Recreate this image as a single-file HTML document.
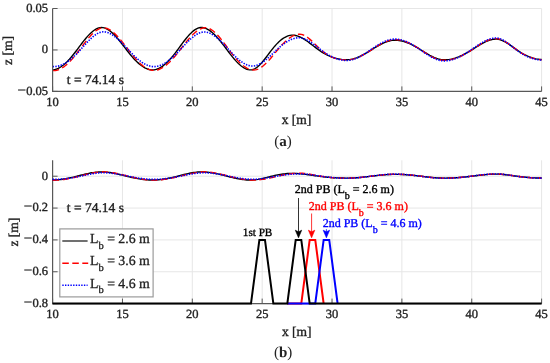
<!DOCTYPE html>
<html><head><meta charset="utf-8"><style>
html,body{margin:0;padding:0;background:#fff;}
body{width:550px;height:363px;overflow:hidden;position:relative;}
svg{position:absolute;left:0;top:0;}
text{font-family:"Liberation Serif", "DejaVu Serif", serif;fill:#222;text-rendering:geometricPrecision;}
.tk{font-size:12.5px;stroke:#222;stroke-width:0.35px;}
.lb{font-size:13.5px;stroke:#222;stroke-width:0.35px;}
.an{font-size:12px;stroke-width:0.35px;}
.cap{font-size:15px;}
.lg{font-size:13.8px;stroke:#222;stroke-width:0.3px;}
</style></head><body>
<svg width="550" height="363" viewBox="0 0 550 363">
<line x1="122.46" y1="8.5" x2="122.46" y2="91.4" stroke="#e6e6e6" stroke-width="1"/>
<line x1="192.31" y1="8.5" x2="192.31" y2="91.4" stroke="#e6e6e6" stroke-width="1"/>
<line x1="262.17" y1="8.5" x2="262.17" y2="91.4" stroke="#e6e6e6" stroke-width="1"/>
<line x1="332.03" y1="8.5" x2="332.03" y2="91.4" stroke="#e6e6e6" stroke-width="1"/>
<line x1="401.89" y1="8.5" x2="401.89" y2="91.4" stroke="#e6e6e6" stroke-width="1"/>
<line x1="471.74" y1="8.5" x2="471.74" y2="91.4" stroke="#e6e6e6" stroke-width="1"/>
<line x1="541.60" y1="8.5" x2="541.60" y2="91.4" stroke="#e6e6e6" stroke-width="1"/>
<line x1="52.6" y1="49.95" x2="541.6" y2="49.95" stroke="#e6e6e6" stroke-width="1"/>
<line x1="52.6" y1="8.50" x2="541.6" y2="8.50" stroke="#e6e6e6" stroke-width="1"/>
<path d="M52.60,69.91 L54.00,69.75 L55.39,69.43 L56.79,68.97 L58.19,68.37 L59.59,67.63 L60.98,66.76 L62.38,65.78 L63.78,64.68 L65.17,63.47 L66.57,62.16 L67.97,60.75 L69.37,59.26 L70.76,57.68 L72.16,56.03 L73.56,54.31 L74.95,52.53 L76.35,50.70 L77.75,48.82 L79.15,46.94 L80.54,45.08 L81.94,43.23 L83.34,41.43 L84.73,39.68 L86.13,38.00 L87.53,36.39 L88.93,34.87 L90.32,33.46 L91.72,32.17 L93.12,31.00 L94.51,29.98 L95.91,29.12 L97.31,28.42 L98.71,27.91 L100.10,27.59 L101.50,27.48 L102.90,27.59 L104.29,27.89 L105.69,28.39 L107.09,29.06 L108.49,29.89 L109.88,30.87 L111.28,31.99 L112.68,33.24 L114.07,34.60 L115.47,36.07 L116.87,37.62 L118.27,39.25 L119.66,40.94 L121.06,42.69 L122.46,44.48 L123.85,46.29 L125.25,48.12 L126.65,49.95 L128.05,51.75 L129.44,53.51 L130.84,55.21 L132.24,56.84 L133.63,58.41 L135.03,59.90 L136.43,61.31 L137.83,62.64 L139.22,63.87 L140.62,65.01 L142.02,66.05 L143.41,66.97 L144.81,67.78 L146.21,68.47 L147.61,69.04 L149.00,69.47 L150.40,69.76 L151.80,69.91 L153.19,69.91 L154.59,69.75 L155.99,69.44 L157.39,68.99 L158.78,68.39 L160.18,67.66 L161.58,66.81 L162.97,65.83 L164.37,64.74 L165.77,63.54 L167.17,62.23 L168.56,60.83 L169.96,59.33 L171.36,57.75 L172.75,56.10 L174.15,54.37 L175.55,52.57 L176.95,50.71 L178.34,48.80 L179.74,46.89 L181.14,44.98 L182.53,43.10 L183.93,41.26 L185.33,39.47 L186.73,37.74 L188.12,36.10 L189.52,34.56 L190.92,33.13 L192.31,31.83 L193.71,30.67 L195.11,29.67 L196.51,28.83 L197.90,28.19 L199.30,27.74 L200.70,27.51 L202.09,27.51 L203.49,27.70 L204.89,28.06 L206.29,28.59 L207.68,29.28 L209.08,30.12 L210.48,31.10 L211.87,32.21 L213.27,33.44 L214.67,34.78 L216.07,36.21 L217.46,37.74 L218.86,39.35 L220.26,41.03 L221.65,42.77 L223.05,44.56 L224.45,46.39 L225.85,48.25 L227.24,50.14 L228.64,52.01 L230.04,53.85 L231.43,55.64 L232.83,57.37 L234.23,59.04 L235.63,60.62 L237.02,62.12 L238.42,63.52 L239.82,64.80 L241.21,65.97 L242.61,67.01 L244.01,67.91 L245.41,68.65 L246.80,69.24 L248.20,69.65 L249.60,69.88 L250.99,69.92 L252.39,69.70 L253.79,69.22 L255.19,68.51 L256.58,67.59 L257.98,66.47 L259.38,65.19 L260.77,63.76 L262.17,62.20 L263.57,60.54 L264.97,58.79 L266.36,56.98 L267.76,55.14 L269.16,53.28 L270.55,51.42 L271.95,49.59 L273.35,47.83 L274.75,46.16 L276.14,44.60 L277.54,43.13 L278.94,41.78 L280.33,40.53 L281.73,39.40 L283.13,38.39 L284.53,37.51 L285.92,36.76 L287.32,36.14 L288.72,35.67 L290.11,35.33 L291.51,35.15 L292.91,35.12 L294.31,35.23 L295.70,35.48 L297.10,35.84 L298.50,36.32 L299.89,36.91 L301.29,37.59 L302.69,38.35 L304.09,39.18 L305.48,40.08 L306.88,41.04 L308.28,42.03 L309.67,43.07 L311.07,44.12 L312.47,45.20 L313.87,46.28 L315.26,47.35 L316.66,48.41 L318.06,49.44 L319.45,50.44 L320.85,51.39 L322.25,52.29 L323.65,53.13 L325.04,53.92 L326.44,54.65 L327.84,55.34 L329.23,55.97 L330.63,56.56 L332.03,57.09 L333.43,57.57 L334.82,58.00 L336.22,58.39 L337.62,58.72 L339.01,59.01 L340.41,59.24 L341.81,59.43 L343.21,59.58 L344.60,59.67 L346.00,59.72 L347.40,59.73 L348.79,59.65 L350.19,59.48 L351.59,59.24 L352.99,58.92 L354.38,58.54 L355.78,58.08 L357.18,57.57 L358.57,57.00 L359.97,56.37 L361.37,55.70 L362.77,54.99 L364.16,54.23 L365.56,53.44 L366.96,52.63 L368.35,51.78 L369.75,50.92 L371.15,50.04 L372.55,49.15 L373.94,48.28 L375.34,47.42 L376.74,46.59 L378.13,45.79 L379.53,45.01 L380.93,44.28 L382.33,43.58 L383.72,42.94 L385.12,42.35 L386.52,41.82 L387.91,41.35 L389.31,40.96 L390.71,40.63 L392.11,40.39 L393.50,40.24 L394.90,40.17 L396.30,40.19 L397.69,40.29 L399.09,40.45 L400.49,40.69 L401.89,40.99 L403.28,41.34 L404.68,41.76 L406.08,42.24 L407.47,42.76 L408.87,43.33 L410.27,43.95 L411.67,44.62 L413.06,45.32 L414.46,46.06 L415.86,46.84 L417.25,47.64 L418.65,48.48 L420.05,49.34 L421.45,50.22 L422.84,51.10 L424.24,51.98 L425.64,52.84 L427.03,53.69 L428.43,54.51 L429.83,55.30 L431.23,56.04 L432.62,56.74 L434.02,57.39 L435.42,57.97 L436.81,58.49 L438.21,58.93 L439.61,59.29 L441.01,59.56 L442.40,59.74 L443.80,59.81 L445.20,59.80 L446.59,59.72 L447.99,59.58 L449.39,59.38 L450.79,59.13 L452.18,58.83 L453.58,58.48 L454.98,58.07 L456.37,57.62 L457.77,57.12 L459.17,56.57 L460.57,55.98 L461.96,55.36 L463.36,54.69 L464.76,53.98 L466.15,53.24 L467.55,52.46 L468.95,51.66 L470.35,50.82 L471.74,49.95 L473.14,49.06 L474.54,48.17 L475.93,47.28 L477.33,46.40 L478.73,45.54 L480.13,44.70 L481.52,43.89 L482.92,43.12 L484.32,42.39 L485.71,41.72 L487.11,41.11 L488.51,40.56 L489.91,40.09 L491.30,39.70 L492.70,39.40 L494.10,39.20 L495.49,39.10 L496.89,39.12 L498.29,39.29 L499.69,39.60 L501.08,40.04 L502.48,40.60 L503.88,41.26 L505.27,42.00 L506.67,42.83 L508.07,43.72 L509.47,44.66 L510.86,45.63 L512.26,46.64 L513.66,47.65 L515.05,48.66 L516.45,49.66 L517.85,50.62 L519.25,51.55 L520.64,52.42 L522.04,53.25 L523.44,54.04 L524.83,54.78 L526.23,55.46 L527.63,56.10 L529.03,56.69 L530.42,57.22 L531.82,57.70 L533.22,58.13 L534.61,58.51 L536.01,58.83 L537.41,59.09 L538.81,59.30 L540.20,59.45 L541.60,59.54" fill="none" stroke="#000" stroke-width="1.4"/>
<path d="M52.60,70.54 L54.00,70.59 L55.39,70.48 L56.79,70.22 L58.19,69.81 L59.59,69.26 L60.98,68.57 L62.38,67.76 L63.78,66.83 L65.17,65.78 L66.57,64.62 L67.97,63.36 L69.37,62.01 L70.76,60.56 L72.16,59.03 L73.56,57.42 L74.95,55.74 L76.35,53.99 L77.75,52.19 L79.15,50.33 L80.54,48.43 L81.94,46.54 L83.34,44.67 L84.73,42.82 L86.13,41.02 L87.53,39.28 L88.93,37.60 L90.32,36.02 L91.72,34.53 L93.12,33.15 L94.51,31.90 L95.91,30.79 L97.31,29.84 L98.71,29.05 L100.10,28.44 L101.50,28.03 L102.90,27.83 L104.29,27.85 L105.69,28.07 L107.09,28.48 L108.49,29.07 L109.88,29.82 L111.28,30.73 L112.68,31.77 L114.07,32.95 L115.47,34.25 L116.87,35.66 L118.27,37.16 L119.66,38.75 L121.06,40.41 L122.46,42.13 L123.85,43.90 L125.25,45.71 L126.65,47.54 L128.05,49.39 L129.44,51.24 L130.84,53.04 L132.24,54.80 L133.63,56.50 L135.03,58.14 L136.43,59.70 L137.83,61.19 L139.22,62.60 L140.62,63.91 L142.02,65.12 L143.41,66.23 L144.81,67.22 L146.21,68.10 L147.61,68.84 L149.00,69.45 L150.40,69.92 L151.80,70.24 L153.19,70.41 L154.59,70.41 L155.99,70.25 L157.39,69.95 L158.78,69.51 L160.18,68.94 L161.58,68.23 L162.97,67.41 L164.37,66.46 L165.77,65.41 L167.17,64.26 L168.56,63.01 L169.96,61.67 L171.36,60.25 L172.75,58.75 L174.15,57.18 L175.55,55.54 L176.95,53.85 L178.34,52.10 L179.74,50.31 L181.14,48.50 L182.53,46.68 L183.93,44.89 L185.33,43.12 L186.73,41.40 L188.12,39.72 L189.52,38.11 L190.92,36.57 L192.31,35.12 L193.71,33.77 L195.11,32.52 L196.51,31.39 L197.90,30.39 L199.30,29.53 L200.70,28.83 L202.09,28.29 L203.49,27.93 L204.89,27.75 L206.29,27.78 L207.68,28.03 L209.08,28.50 L210.48,29.17 L211.87,30.03 L213.27,31.06 L214.67,32.24 L216.07,33.56 L217.46,35.02 L218.86,36.58 L220.26,38.24 L221.65,39.98 L223.05,41.78 L224.45,43.64 L225.85,45.54 L227.24,47.45 L228.64,49.37 L230.04,51.28 L231.43,53.13 L232.83,54.92 L234.23,56.64 L235.63,58.29 L237.02,59.86 L238.42,61.33 L239.82,62.72 L241.21,64.00 L242.61,65.18 L244.01,66.25 L245.41,67.19 L246.80,68.01 L248.20,68.70 L249.60,69.25 L250.99,69.66 L252.39,69.91 L253.79,70.01 L255.19,69.92 L256.58,69.63 L257.98,69.15 L259.38,68.48 L260.77,67.66 L262.17,66.68 L263.57,65.56 L264.97,64.32 L266.36,62.98 L267.76,61.53 L269.16,60.01 L270.55,58.42 L271.95,56.78 L273.35,55.09 L274.75,53.39 L276.14,51.67 L277.54,49.95 L278.94,48.27 L280.33,46.65 L281.73,45.10 L283.13,43.63 L284.53,42.24 L285.92,40.94 L287.32,39.73 L288.72,38.62 L290.11,37.62 L291.51,36.74 L292.91,35.98 L294.31,35.34 L295.70,34.84 L297.10,34.48 L298.50,34.26 L299.89,34.20 L301.29,34.34 L302.69,34.71 L304.09,35.28 L305.48,36.02 L306.88,36.92 L308.28,37.96 L309.67,39.11 L311.07,40.36 L312.47,41.67 L313.87,43.04 L315.26,44.43 L316.66,45.82 L318.06,47.20 L319.45,48.54 L320.85,49.83 L322.25,51.03 L323.65,52.13 L325.04,53.16 L326.44,54.09 L327.84,54.95 L329.23,55.72 L330.63,56.42 L332.03,57.05 L333.43,57.60 L334.82,58.09 L336.22,58.51 L337.62,58.88 L339.01,59.18 L340.41,59.42 L341.81,59.61 L343.21,59.75 L344.60,59.84 L346.00,59.89 L347.40,59.89 L348.79,59.81 L350.19,59.65 L351.59,59.41 L352.99,59.09 L354.38,58.70 L355.78,58.25 L357.18,57.73 L358.57,57.16 L359.97,56.53 L361.37,55.85 L362.77,55.12 L364.16,54.35 L365.56,53.55 L366.96,52.71 L368.35,51.85 L369.75,50.95 L371.15,50.04 L372.55,49.12 L373.94,48.21 L375.34,47.31 L376.74,46.44 L378.13,45.58 L379.53,44.77 L380.93,43.99 L382.33,43.25 L383.72,42.56 L385.12,41.93 L386.52,41.36 L387.91,40.86 L389.31,40.44 L390.71,40.09 L392.11,39.83 L393.50,39.66 L394.90,39.59 L396.30,39.61 L397.69,39.72 L399.09,39.89 L400.49,40.14 L401.89,40.46 L403.28,40.84 L404.68,41.28 L406.08,41.79 L407.47,42.34 L408.87,42.95 L410.27,43.61 L411.67,44.31 L413.06,45.06 L414.46,45.84 L415.86,46.66 L417.25,47.51 L418.65,48.40 L420.05,49.30 L421.45,50.23 L422.84,51.16 L424.24,52.09 L425.64,53.00 L427.03,53.89 L428.43,54.75 L429.83,55.58 L431.23,56.36 L432.62,57.09 L434.02,57.77 L435.42,58.38 L436.81,58.92 L438.21,59.38 L439.61,59.76 L441.01,60.05 L442.40,60.23 L443.80,60.31 L445.20,60.29 L446.59,60.21 L447.99,60.06 L449.39,59.86 L450.79,59.60 L452.18,59.28 L453.58,58.90 L454.98,58.48 L456.37,58.00 L457.77,57.47 L459.17,56.90 L460.57,56.28 L461.96,55.62 L463.36,54.92 L464.76,54.18 L466.15,53.40 L467.55,52.59 L468.95,51.74 L470.35,50.86 L471.74,49.95 L473.14,49.02 L474.54,48.09 L475.93,47.16 L477.33,46.23 L478.73,45.33 L480.13,44.45 L481.52,43.60 L482.92,42.80 L484.32,42.04 L485.71,41.34 L487.11,40.70 L488.51,40.13 L489.91,39.64 L491.30,39.23 L492.70,38.92 L494.10,38.71 L495.49,38.60 L496.89,38.62 L498.29,38.80 L499.69,39.13 L501.08,39.60 L502.48,40.18 L503.88,40.87 L505.27,41.66 L506.67,42.53 L508.07,43.46 L509.47,44.44 L510.86,45.46 L512.26,46.51 L513.66,47.56 L515.05,48.61 L516.45,49.65 L517.85,50.64 L519.25,51.60 L520.64,52.50 L522.04,53.35 L523.44,54.15 L524.83,54.90 L526.23,55.60 L527.63,56.25 L529.03,56.84 L530.42,57.38 L531.82,57.87 L533.22,58.30 L534.61,58.68 L536.01,59.00 L537.41,59.26 L538.81,59.47 L540.20,59.61 L541.60,59.70" fill="none" stroke="#ff0000" stroke-width="1.4" stroke-dasharray="6.5 3.5"/>
<path d="M52.60,66.55 L54.00,66.61 L55.39,66.55 L56.79,66.38 L58.19,66.10 L59.59,65.71 L60.98,65.22 L62.38,64.63 L63.78,63.95 L65.17,63.17 L66.57,62.31 L67.97,61.36 L69.37,60.33 L70.76,59.22 L72.16,58.04 L73.56,56.79 L74.95,55.48 L76.35,54.10 L77.75,52.67 L79.15,51.18 L80.54,49.64 L81.94,48.07 L83.34,46.50 L84.73,44.94 L86.13,43.41 L87.53,41.91 L88.93,40.46 L90.32,39.08 L91.72,37.77 L93.12,36.56 L94.51,35.45 L95.91,34.47 L97.31,33.61 L98.71,32.91 L100.10,32.36 L101.50,31.99 L102.90,31.81 L104.29,31.83 L105.69,32.01 L107.09,32.34 L108.49,32.83 L109.88,33.44 L111.28,34.19 L112.68,35.05 L114.07,36.02 L115.47,37.09 L116.87,38.24 L118.27,39.47 L119.66,40.78 L121.06,42.14 L122.46,43.55 L123.85,45.00 L125.25,46.48 L126.65,47.98 L128.05,49.50 L129.44,51.00 L130.84,52.48 L132.24,53.91 L133.63,55.30 L135.03,56.63 L136.43,57.90 L137.83,59.12 L139.22,60.26 L140.62,61.33 L142.02,62.31 L143.41,63.21 L144.81,64.02 L146.21,64.73 L147.61,65.33 L149.00,65.83 L150.40,66.21 L151.80,66.46 L153.19,66.60 L154.59,66.60 L155.99,66.48 L157.39,66.24 L158.78,65.89 L160.18,65.43 L161.58,64.86 L162.97,64.20 L164.37,63.45 L165.77,62.60 L167.17,61.67 L168.56,60.66 L169.96,59.58 L171.36,58.42 L172.75,57.20 L174.15,55.91 L175.55,54.57 L176.95,53.18 L178.34,51.74 L179.74,50.25 L181.14,48.74 L182.53,47.22 L183.93,45.72 L185.33,44.24 L186.73,42.79 L188.12,41.39 L189.52,40.04 L190.92,38.76 L192.31,37.55 L193.71,36.43 L195.11,35.41 L196.51,34.50 L197.90,33.72 L199.30,33.06 L200.70,32.55 L202.09,32.19 L203.49,31.99 L204.89,31.97 L206.29,32.12 L207.68,32.43 L209.08,32.88 L210.48,33.47 L211.87,34.19 L213.27,35.03 L214.67,35.97 L216.07,37.02 L217.46,38.16 L218.86,39.39 L220.26,40.68 L221.65,42.05 L223.05,43.46 L224.45,44.92 L225.85,46.42 L227.24,47.94 L228.64,49.49 L230.04,51.03 L231.43,52.54 L232.83,54.01 L234.23,55.43 L235.63,56.80 L237.02,58.10 L238.42,59.34 L239.82,60.49 L241.21,61.56 L242.61,62.53 L244.01,63.40 L245.41,64.16 L246.80,64.80 L248.20,65.31 L249.60,65.70 L250.99,65.94 L252.39,66.03 L253.79,65.96 L255.19,65.74 L256.58,65.36 L257.98,64.84 L259.38,64.19 L260.77,63.42 L262.17,62.55 L263.57,61.58 L264.97,60.52 L266.36,59.40 L267.76,58.20 L269.16,56.96 L270.55,55.68 L271.95,54.36 L273.35,53.03 L274.75,51.69 L276.14,50.35 L277.54,49.03 L278.94,47.76 L280.33,46.55 L281.73,45.40 L283.13,44.31 L284.53,43.29 L285.92,42.34 L287.32,41.47 L288.72,40.68 L290.11,39.97 L291.51,39.36 L292.91,38.84 L294.31,38.41 L295.70,38.09 L297.10,37.88 L298.50,37.77 L299.89,37.79 L301.29,37.96 L302.69,38.28 L304.09,38.72 L305.48,39.28 L306.88,39.95 L308.28,40.71 L309.67,41.56 L311.07,42.48 L312.47,43.45 L313.87,44.47 L315.26,45.53 L316.66,46.60 L318.06,47.69 L319.45,48.77 L320.85,49.84 L322.25,50.88 L323.65,51.88 L325.04,52.82 L326.44,53.72 L327.84,54.57 L329.23,55.37 L330.63,56.12 L332.03,56.81 L333.43,57.45 L334.82,58.03 L336.22,58.55 L337.62,59.01 L339.01,59.42 L340.41,59.76 L341.81,60.03 L343.21,60.24 L344.60,60.39 L346.00,60.47 L347.40,60.47 L348.79,60.38 L350.19,60.19 L351.59,59.90 L352.99,59.53 L354.38,59.08 L355.78,58.55 L357.18,57.96 L358.57,57.30 L359.97,56.58 L361.37,55.81 L362.77,55.00 L364.16,54.14 L365.56,53.25 L366.96,52.34 L368.35,51.39 L369.75,50.43 L371.15,49.47 L372.55,48.51 L373.94,47.57 L375.34,46.66 L376.74,45.77 L378.13,44.92 L379.53,44.10 L380.93,43.33 L382.33,42.61 L383.72,41.94 L385.12,41.33 L386.52,40.78 L387.91,40.30 L389.31,39.90 L390.71,39.57 L392.11,39.32 L393.50,39.16 L394.90,39.09 L396.30,39.12 L397.69,39.23 L399.09,39.43 L400.49,39.71 L401.89,40.06 L403.28,40.48 L404.68,40.97 L406.08,41.53 L407.47,42.14 L408.87,42.81 L410.27,43.53 L411.67,44.30 L413.06,45.10 L414.46,45.95 L415.86,46.84 L417.25,47.75 L418.65,48.69 L420.05,49.66 L421.45,50.63 L422.84,51.61 L424.24,52.57 L425.64,53.51 L427.03,54.42 L428.43,55.30 L429.83,56.14 L431.23,56.93 L432.62,57.67 L434.02,58.35 L435.42,58.97 L436.81,59.51 L438.21,59.97 L439.61,60.35 L441.01,60.63 L442.40,60.81 L443.80,60.89 L445.20,60.87 L446.59,60.77 L447.99,60.61 L449.39,60.37 L450.79,60.07 L452.18,59.70 L453.58,59.28 L454.98,58.80 L456.37,58.26 L457.77,57.67 L459.17,57.03 L460.57,56.34 L461.96,55.61 L463.36,54.83 L464.76,54.02 L466.15,53.17 L467.55,52.29 L468.95,51.37 L470.35,50.43 L471.74,49.46 L473.14,48.49 L474.54,47.52 L475.93,46.56 L477.33,45.62 L478.73,44.70 L480.13,43.82 L481.52,42.97 L482.92,42.16 L484.32,41.40 L485.71,40.71 L487.11,40.07 L488.51,39.51 L489.91,39.03 L491.30,38.63 L492.70,38.33 L494.10,38.12 L495.49,38.02 L496.89,38.05 L498.29,38.25 L499.69,38.61 L501.08,39.12 L502.48,39.77 L503.88,40.53 L505.27,41.39 L506.67,42.34 L508.07,43.35 L509.47,44.42 L510.86,45.52 L512.26,46.64 L513.66,47.76 L515.05,48.87 L516.45,49.95 L517.85,50.98 L519.25,51.96 L520.64,52.88 L522.04,53.75 L523.44,54.56 L524.83,55.32 L526.23,56.02 L527.63,56.66 L529.03,57.25 L530.42,57.78 L531.82,58.26 L533.22,58.68 L534.61,59.05 L536.01,59.36 L537.41,59.61 L538.81,59.81 L540.20,59.95 L541.60,60.04" fill="none" stroke="#0000ff" stroke-width="1.6" stroke-dasharray="1.4 1.3"/>
<path d="M52.6,8.5 V91.4 H541.6" fill="none" stroke="#585858" stroke-width="1.2"/>
<line x1="52.60" y1="91.4" x2="52.60" y2="86.4" stroke="#585858" stroke-width="1"/>
<line x1="122.46" y1="91.4" x2="122.46" y2="86.4" stroke="#585858" stroke-width="1"/>
<line x1="192.31" y1="91.4" x2="192.31" y2="86.4" stroke="#585858" stroke-width="1"/>
<line x1="262.17" y1="91.4" x2="262.17" y2="86.4" stroke="#585858" stroke-width="1"/>
<line x1="332.03" y1="91.4" x2="332.03" y2="86.4" stroke="#585858" stroke-width="1"/>
<line x1="401.89" y1="91.4" x2="401.89" y2="86.4" stroke="#585858" stroke-width="1"/>
<line x1="471.74" y1="91.4" x2="471.74" y2="86.4" stroke="#585858" stroke-width="1"/>
<line x1="541.60" y1="91.4" x2="541.60" y2="86.4" stroke="#585858" stroke-width="1"/>
<line x1="52.6" y1="91.40" x2="57.6" y2="91.40" stroke="#585858" stroke-width="1"/>
<line x1="52.6" y1="49.95" x2="57.6" y2="49.95" stroke="#585858" stroke-width="1"/>
<line x1="52.6" y1="8.50" x2="57.6" y2="8.50" stroke="#585858" stroke-width="1"/>
<line x1="122.46" y1="160.3" x2="122.46" y2="303.6" stroke="#e6e6e6" stroke-width="1"/>
<line x1="192.31" y1="160.3" x2="192.31" y2="303.6" stroke="#e6e6e6" stroke-width="1"/>
<line x1="262.17" y1="160.3" x2="262.17" y2="303.6" stroke="#e6e6e6" stroke-width="1"/>
<line x1="332.03" y1="160.3" x2="332.03" y2="303.6" stroke="#e6e6e6" stroke-width="1"/>
<line x1="401.89" y1="160.3" x2="401.89" y2="303.6" stroke="#e6e6e6" stroke-width="1"/>
<line x1="471.74" y1="160.3" x2="471.74" y2="303.6" stroke="#e6e6e6" stroke-width="1"/>
<line x1="541.60" y1="160.3" x2="541.60" y2="303.6" stroke="#e6e6e6" stroke-width="1"/>
<line x1="52.6" y1="176.22" x2="541.6" y2="176.22" stroke="#e6e6e6" stroke-width="1"/>
<line x1="52.6" y1="208.07" x2="541.6" y2="208.07" stroke="#e6e6e6" stroke-width="1"/>
<line x1="52.6" y1="239.91" x2="541.6" y2="239.91" stroke="#e6e6e6" stroke-width="1"/>
<line x1="52.6" y1="271.76" x2="541.6" y2="271.76" stroke="#e6e6e6" stroke-width="1"/>
<path d="M52.6,160.3 V303.6 H541.6" fill="none" stroke="#585858" stroke-width="1.2"/>
<line x1="52.60" y1="303.6" x2="52.60" y2="298.6" stroke="#585858" stroke-width="1"/>
<line x1="122.46" y1="303.6" x2="122.46" y2="298.6" stroke="#585858" stroke-width="1"/>
<line x1="192.31" y1="303.6" x2="192.31" y2="298.6" stroke="#585858" stroke-width="1"/>
<line x1="262.17" y1="303.6" x2="262.17" y2="298.6" stroke="#585858" stroke-width="1"/>
<line x1="332.03" y1="303.6" x2="332.03" y2="298.6" stroke="#585858" stroke-width="1"/>
<line x1="401.89" y1="303.6" x2="401.89" y2="298.6" stroke="#585858" stroke-width="1"/>
<line x1="471.74" y1="303.6" x2="471.74" y2="298.6" stroke="#585858" stroke-width="1"/>
<line x1="541.60" y1="303.6" x2="541.60" y2="298.6" stroke="#585858" stroke-width="1"/>
<line x1="52.6" y1="303.60" x2="57.6" y2="303.60" stroke="#585858" stroke-width="1"/>
<line x1="52.6" y1="271.76" x2="57.6" y2="271.76" stroke="#585858" stroke-width="1"/>
<line x1="52.6" y1="239.91" x2="57.6" y2="239.91" stroke="#585858" stroke-width="1"/>
<line x1="52.6" y1="208.07" x2="57.6" y2="208.07" stroke="#585858" stroke-width="1"/>
<line x1="52.6" y1="176.22" x2="57.6" y2="176.22" stroke="#585858" stroke-width="1"/>
<path d="M52.60,180.06 L54.00,180.02 L55.39,179.96 L56.79,179.88 L58.19,179.76 L59.59,179.62 L60.98,179.45 L62.38,179.26 L63.78,179.05 L65.17,178.82 L66.57,178.57 L67.97,178.30 L69.37,178.01 L70.76,177.71 L72.16,177.39 L73.56,177.06 L74.95,176.72 L76.35,176.37 L77.75,176.01 L79.15,175.64 L80.54,175.29 L81.94,174.93 L83.34,174.59 L84.73,174.25 L86.13,173.93 L87.53,173.62 L88.93,173.33 L90.32,173.06 L91.72,172.81 L93.12,172.58 L94.51,172.39 L95.91,172.22 L97.31,172.09 L98.71,171.99 L100.10,171.93 L101.50,171.91 L102.90,171.93 L104.29,171.99 L105.69,172.08 L107.09,172.21 L108.49,172.37 L109.88,172.56 L111.28,172.77 L112.68,173.01 L114.07,173.27 L115.47,173.56 L116.87,173.85 L118.27,174.17 L119.66,174.49 L121.06,174.83 L122.46,175.17 L123.85,175.52 L125.25,175.87 L126.65,176.22 L128.05,176.57 L129.44,176.91 L130.84,177.23 L132.24,177.55 L133.63,177.85 L135.03,178.13 L136.43,178.40 L137.83,178.66 L139.22,178.90 L140.62,179.12 L142.02,179.31 L143.41,179.49 L144.81,179.65 L146.21,179.78 L147.61,179.89 L149.00,179.97 L150.40,180.03 L151.80,180.06 L153.19,180.06 L154.59,180.03 L155.99,179.97 L157.39,179.88 L158.78,179.76 L160.18,179.62 L161.58,179.46 L162.97,179.27 L164.37,179.06 L165.77,178.83 L167.17,178.58 L168.56,178.31 L169.96,178.02 L171.36,177.72 L172.75,177.40 L174.15,177.07 L175.55,176.73 L176.95,176.37 L178.34,176.00 L179.74,175.63 L181.14,175.27 L182.53,174.91 L183.93,174.55 L185.33,174.21 L186.73,173.88 L188.12,173.56 L189.52,173.27 L190.92,172.99 L192.31,172.74 L193.71,172.52 L195.11,172.33 L196.51,172.17 L197.90,172.04 L199.30,171.96 L200.70,171.91 L202.09,171.91 L203.49,171.95 L204.89,172.02 L206.29,172.12 L207.68,172.25 L209.08,172.41 L210.48,172.60 L211.87,172.82 L213.27,173.05 L214.67,173.31 L216.07,173.58 L217.46,173.88 L218.86,174.19 L220.26,174.51 L221.65,174.84 L223.05,175.19 L224.45,175.54 L225.85,175.90 L227.24,176.26 L228.64,176.62 L230.04,176.97 L231.43,177.32 L232.83,177.65 L234.23,177.97 L235.63,178.27 L237.02,178.56 L238.42,178.83 L239.82,179.08 L241.21,179.30 L242.61,179.50 L244.01,179.67 L245.41,179.81 L246.80,179.93 L248.20,180.01 L249.60,180.05 L250.99,180.06 L252.39,180.01 L253.79,179.92 L255.19,179.79 L256.58,179.61 L257.98,179.40 L259.38,179.15 L260.77,178.87 L262.17,178.57 L263.57,178.26 L264.97,177.92 L266.36,177.57 L267.76,177.22 L269.16,176.86 L270.55,176.50 L271.95,176.15 L273.35,175.81 L274.75,175.50 L276.14,175.19 L277.54,174.91 L278.94,174.65 L280.33,174.41 L281.73,174.20 L283.13,174.00 L284.53,173.83 L285.92,173.69 L287.32,173.57 L288.72,173.48 L290.11,173.41 L291.51,173.38 L292.91,173.37 L294.31,173.40 L295.70,173.44 L297.10,173.51 L298.50,173.61 L299.89,173.72 L301.29,173.85 L302.69,173.99 L304.09,174.15 L305.48,174.33 L306.88,174.51 L308.28,174.70 L309.67,174.90 L311.07,175.10 L312.47,175.31 L313.87,175.52 L315.26,175.72 L316.66,175.93 L318.06,176.13 L319.45,176.32 L320.85,176.50 L322.25,176.67 L323.65,176.83 L325.04,176.98 L326.44,177.13 L327.84,177.26 L329.23,177.38 L330.63,177.49 L332.03,177.59 L333.43,177.69 L334.82,177.77 L336.22,177.84 L337.62,177.91 L339.01,177.96 L340.41,178.01 L341.81,178.04 L343.21,178.07 L344.60,178.09 L346.00,178.10 L347.40,178.10 L348.79,178.08 L350.19,178.05 L351.59,178.01 L352.99,177.95 L354.38,177.87 L355.78,177.78 L357.18,177.69 L358.57,177.58 L359.97,177.46 L361.37,177.33 L362.77,177.19 L364.16,177.04 L365.56,176.89 L366.96,176.74 L368.35,176.57 L369.75,176.41 L371.15,176.24 L372.55,176.07 L373.94,175.90 L375.34,175.74 L376.74,175.58 L378.13,175.42 L379.53,175.27 L380.93,175.13 L382.33,175.00 L383.72,174.88 L385.12,174.76 L386.52,174.66 L387.91,174.57 L389.31,174.49 L390.71,174.43 L392.11,174.39 L393.50,174.36 L394.90,174.34 L396.30,174.35 L397.69,174.37 L399.09,174.40 L400.49,174.44 L401.89,174.50 L403.28,174.57 L404.68,174.65 L406.08,174.74 L407.47,174.84 L408.87,174.95 L410.27,175.07 L411.67,175.20 L413.06,175.33 L414.46,175.48 L415.86,175.62 L417.25,175.78 L418.65,175.94 L420.05,176.10 L421.45,176.27 L422.84,176.44 L424.24,176.61 L425.64,176.78 L427.03,176.94 L428.43,177.10 L429.83,177.25 L431.23,177.39 L432.62,177.53 L434.02,177.65 L435.42,177.76 L436.81,177.86 L438.21,177.95 L439.61,178.02 L441.01,178.07 L442.40,178.10 L443.80,178.12 L445.20,178.11 L446.59,178.10 L447.99,178.07 L449.39,178.03 L450.79,177.99 L452.18,177.93 L453.58,177.86 L454.98,177.78 L456.37,177.69 L457.77,177.60 L459.17,177.49 L460.57,177.38 L461.96,177.26 L463.36,177.13 L464.76,177.00 L466.15,176.85 L467.55,176.71 L468.95,176.55 L470.35,176.39 L471.74,176.22 L473.14,176.05 L474.54,175.88 L475.93,175.71 L477.33,175.54 L478.73,175.37 L480.13,175.21 L481.52,175.06 L482.92,174.91 L484.32,174.77 L485.71,174.64 L487.11,174.52 L488.51,174.42 L489.91,174.33 L491.30,174.25 L492.70,174.20 L494.10,174.16 L495.49,174.14 L496.89,174.14 L498.29,174.17 L499.69,174.23 L501.08,174.32 L502.48,174.43 L503.88,174.55 L505.27,174.70 L506.67,174.85 L508.07,175.03 L509.47,175.21 L510.86,175.39 L512.26,175.59 L513.66,175.78 L515.05,175.97 L516.45,176.17 L517.85,176.35 L519.25,176.53 L520.64,176.70 L522.04,176.86 L523.44,177.01 L524.83,177.15 L526.23,177.28 L527.63,177.40 L529.03,177.52 L530.42,177.62 L531.82,177.71 L533.22,177.79 L534.61,177.87 L536.01,177.93 L537.41,177.98 L538.81,178.02 L540.20,178.05 L541.60,178.06" fill="none" stroke="#000" stroke-width="1.4"/>
<path d="M52.60,180.18 L54.00,180.19 L55.39,180.17 L56.79,180.11 L58.19,180.04 L59.59,179.93 L60.98,179.80 L62.38,179.64 L63.78,179.46 L65.17,179.26 L66.57,179.04 L67.97,178.80 L69.37,178.54 L70.76,178.26 L72.16,177.97 L73.56,177.66 L74.95,177.33 L76.35,177.00 L77.75,176.65 L79.15,176.29 L80.54,175.93 L81.94,175.57 L83.34,175.21 L84.73,174.85 L86.13,174.51 L87.53,174.17 L88.93,173.85 L90.32,173.55 L91.72,173.26 L93.12,173.00 L94.51,172.76 L95.91,172.54 L97.31,172.36 L98.71,172.21 L100.10,172.09 L101.50,172.01 L102.90,171.97 L104.29,171.98 L105.69,172.02 L107.09,172.10 L108.49,172.21 L109.88,172.36 L111.28,172.53 L112.68,172.73 L114.07,172.96 L115.47,173.21 L116.87,173.48 L118.27,173.77 L119.66,174.07 L121.06,174.39 L122.46,174.72 L123.85,175.06 L125.25,175.41 L126.65,175.76 L128.05,176.12 L129.44,176.47 L130.84,176.82 L132.24,177.15 L133.63,177.48 L135.03,177.79 L136.43,178.10 L137.83,178.38 L139.22,178.65 L140.62,178.90 L142.02,179.14 L143.41,179.35 L144.81,179.54 L146.21,179.71 L147.61,179.85 L149.00,179.97 L150.40,180.06 L151.80,180.12 L153.19,180.15 L154.59,180.15 L155.99,180.12 L157.39,180.06 L158.78,179.98 L160.18,179.87 L161.58,179.73 L162.97,179.57 L164.37,179.39 L165.77,179.19 L167.17,178.97 L168.56,178.73 L169.96,178.47 L171.36,178.20 L172.75,177.91 L174.15,177.61 L175.55,177.30 L176.95,176.97 L178.34,176.64 L179.74,176.29 L181.14,175.94 L182.53,175.59 L183.93,175.25 L185.33,174.91 L186.73,174.58 L188.12,174.26 L189.52,173.95 L190.92,173.65 L192.31,173.37 L193.71,173.11 L195.11,172.87 L196.51,172.66 L197.90,172.47 L199.30,172.30 L200.70,172.17 L202.09,172.06 L203.49,171.99 L204.89,171.96 L206.29,171.96 L207.68,172.01 L209.08,172.10 L210.48,172.23 L211.87,172.40 L213.27,172.59 L214.67,172.82 L216.07,173.08 L217.46,173.35 L218.86,173.65 L220.26,173.97 L221.65,174.31 L223.05,174.65 L224.45,175.01 L225.85,175.37 L227.24,175.74 L228.64,176.11 L230.04,176.48 L231.43,176.83 L232.83,177.18 L234.23,177.51 L235.63,177.82 L237.02,178.12 L238.42,178.41 L239.82,178.67 L241.21,178.92 L242.61,179.15 L244.01,179.35 L245.41,179.53 L246.80,179.69 L248.20,179.82 L249.60,179.93 L250.99,180.01 L252.39,180.06 L253.79,180.08 L255.19,180.06 L256.58,180.00 L257.98,179.91 L259.38,179.78 L260.77,179.62 L262.17,179.43 L263.57,179.22 L264.97,178.98 L266.36,178.72 L267.76,178.45 L269.16,178.15 L270.55,177.85 L271.95,177.53 L273.35,177.21 L274.75,176.88 L276.14,176.55 L277.54,176.22 L278.94,175.90 L280.33,175.59 L281.73,175.29 L283.13,175.01 L284.53,174.74 L285.92,174.49 L287.32,174.26 L288.72,174.05 L290.11,173.85 L291.51,173.69 L292.91,173.54 L294.31,173.42 L295.70,173.32 L297.10,173.25 L298.50,173.21 L299.89,173.20 L301.29,173.22 L302.69,173.29 L304.09,173.40 L305.48,173.55 L306.88,173.72 L308.28,173.92 L309.67,174.14 L311.07,174.38 L312.47,174.63 L313.87,174.89 L315.26,175.16 L316.66,175.43 L318.06,175.69 L319.45,175.95 L320.85,176.20 L322.25,176.43 L323.65,176.64 L325.04,176.84 L326.44,177.02 L327.84,177.18 L329.23,177.33 L330.63,177.47 L332.03,177.59 L333.43,177.69 L334.82,177.79 L336.22,177.87 L337.62,177.94 L339.01,177.99 L340.41,178.04 L341.81,178.08 L343.21,178.10 L344.60,178.12 L346.00,178.13 L347.40,178.13 L348.79,178.12 L350.19,178.09 L351.59,178.04 L352.99,177.98 L354.38,177.90 L355.78,177.82 L357.18,177.72 L358.57,177.61 L359.97,177.49 L361.37,177.35 L362.77,177.22 L364.16,177.07 L365.56,176.91 L366.96,176.75 L368.35,176.59 L369.75,176.42 L371.15,176.24 L372.55,176.06 L373.94,175.89 L375.34,175.72 L376.74,175.55 L378.13,175.38 L379.53,175.23 L380.93,175.08 L382.33,174.94 L383.72,174.80 L385.12,174.68 L386.52,174.57 L387.91,174.48 L389.31,174.40 L390.71,174.33 L392.11,174.28 L393.50,174.25 L394.90,174.23 L396.30,174.24 L397.69,174.26 L399.09,174.29 L400.49,174.34 L401.89,174.40 L403.28,174.47 L404.68,174.56 L406.08,174.65 L407.47,174.76 L408.87,174.88 L410.27,175.00 L411.67,175.14 L413.06,175.28 L414.46,175.43 L415.86,175.59 L417.25,175.75 L418.65,175.92 L420.05,176.10 L421.45,176.28 L422.84,176.46 L424.24,176.63 L425.64,176.81 L427.03,176.98 L428.43,177.14 L429.83,177.30 L431.23,177.45 L432.62,177.59 L434.02,177.72 L435.42,177.84 L436.81,177.95 L438.21,178.03 L439.61,178.11 L441.01,178.16 L442.40,178.20 L443.80,178.21 L445.20,178.21 L446.59,178.19 L447.99,178.16 L449.39,178.13 L450.79,178.07 L452.18,178.01 L453.58,177.94 L454.98,177.86 L456.37,177.77 L457.77,177.67 L459.17,177.56 L460.57,177.44 L461.96,177.31 L463.36,177.18 L464.76,177.03 L466.15,176.88 L467.55,176.73 L468.95,176.57 L470.35,176.40 L471.74,176.22 L473.14,176.04 L474.54,175.86 L475.93,175.69 L477.33,175.51 L478.73,175.33 L480.13,175.17 L481.52,175.00 L482.92,174.85 L484.32,174.70 L485.71,174.57 L487.11,174.45 L488.51,174.34 L489.91,174.24 L491.30,174.16 L492.70,174.10 L494.10,174.06 L495.49,174.04 L496.89,174.05 L498.29,174.08 L499.69,174.14 L501.08,174.23 L502.48,174.35 L503.88,174.48 L505.27,174.63 L506.67,174.80 L508.07,174.98 L509.47,175.16 L510.86,175.36 L512.26,175.56 L513.66,175.76 L515.05,175.97 L516.45,176.16 L517.85,176.36 L519.25,176.54 L520.64,176.71 L522.04,176.88 L523.44,177.03 L524.83,177.17 L526.23,177.31 L527.63,177.43 L529.03,177.55 L530.42,177.65 L531.82,177.74 L533.22,177.83 L534.61,177.90 L536.01,177.96 L537.41,178.01 L538.81,178.05 L540.20,178.08 L541.60,178.10" fill="none" stroke="#ff0000" stroke-width="1.4" stroke-dasharray="6.5 3.5"/>
<path d="M52.60,179.41 L54.00,179.42 L55.39,179.41 L56.79,179.38 L58.19,179.32 L59.59,179.25 L60.98,179.16 L62.38,179.04 L63.78,178.91 L65.17,178.76 L66.57,178.60 L67.97,178.41 L69.37,178.22 L70.76,178.00 L72.16,177.78 L73.56,177.54 L74.95,177.28 L76.35,177.02 L77.75,176.74 L79.15,176.46 L80.54,176.16 L81.94,175.86 L83.34,175.56 L84.73,175.26 L86.13,174.97 L87.53,174.68 L88.93,174.40 L90.32,174.13 L91.72,173.88 L93.12,173.65 L94.51,173.44 L95.91,173.25 L97.31,173.08 L98.71,172.95 L100.10,172.84 L101.50,172.77 L102.90,172.74 L104.29,172.74 L105.69,172.78 L107.09,172.84 L108.49,172.93 L109.88,173.05 L111.28,173.20 L112.68,173.36 L114.07,173.55 L115.47,173.75 L116.87,173.97 L118.27,174.21 L119.66,174.46 L121.06,174.72 L122.46,174.99 L123.85,175.27 L125.25,175.56 L126.65,175.84 L128.05,176.13 L129.44,176.42 L130.84,176.71 L132.24,176.98 L133.63,177.25 L135.03,177.51 L136.43,177.75 L137.83,177.98 L139.22,178.20 L140.62,178.41 L142.02,178.60 L143.41,178.77 L144.81,178.92 L146.21,179.06 L147.61,179.18 L149.00,179.27 L150.40,179.34 L151.80,179.39 L153.19,179.42 L154.59,179.42 L155.99,179.40 L157.39,179.35 L158.78,179.28 L160.18,179.19 L161.58,179.09 L162.97,178.96 L164.37,178.81 L165.77,178.65 L167.17,178.47 L168.56,178.28 L169.96,178.07 L171.36,177.85 L172.75,177.61 L174.15,177.37 L175.55,177.11 L176.95,176.84 L178.34,176.57 L179.74,176.28 L181.14,175.99 L182.53,175.70 L183.93,175.41 L185.33,175.13 L186.73,174.85 L188.12,174.58 L189.52,174.32 L190.92,174.07 L192.31,173.84 L193.71,173.63 L195.11,173.43 L196.51,173.26 L197.90,173.10 L199.30,172.98 L200.70,172.88 L202.09,172.81 L203.49,172.77 L204.89,172.77 L206.29,172.80 L207.68,172.86 L209.08,172.94 L210.48,173.06 L211.87,173.19 L213.27,173.36 L214.67,173.54 L216.07,173.74 L217.46,173.96 L218.86,174.19 L220.26,174.44 L221.65,174.70 L223.05,174.98 L224.45,175.26 L225.85,175.54 L227.24,175.84 L228.64,176.13 L230.04,176.43 L231.43,176.72 L232.83,177.00 L234.23,177.28 L235.63,177.54 L237.02,177.79 L238.42,178.03 L239.82,178.25 L241.21,178.45 L242.61,178.64 L244.01,178.81 L245.41,178.95 L246.80,179.07 L248.20,179.17 L249.60,179.25 L250.99,179.29 L252.39,179.31 L253.79,179.30 L255.19,179.25 L256.58,179.18 L257.98,179.08 L259.38,178.96 L260.77,178.81 L262.17,178.64 L263.57,178.46 L264.97,178.25 L266.36,178.04 L267.76,177.81 L269.16,177.57 L270.55,177.32 L271.95,177.07 L273.35,176.81 L274.75,176.56 L276.14,176.30 L277.54,176.05 L278.94,175.80 L280.33,175.57 L281.73,175.35 L283.13,175.14 L284.53,174.94 L285.92,174.76 L287.32,174.59 L288.72,174.44 L290.11,174.31 L291.51,174.19 L292.91,174.09 L294.31,174.01 L295.70,173.94 L297.10,173.90 L298.50,173.88 L299.89,173.89 L301.29,173.92 L302.69,173.98 L304.09,174.07 L305.48,174.17 L306.88,174.30 L308.28,174.45 L309.67,174.61 L311.07,174.79 L312.47,174.97 L313.87,175.17 L315.26,175.37 L316.66,175.58 L318.06,175.79 L319.45,176.00 L320.85,176.20 L322.25,176.40 L323.65,176.59 L325.04,176.77 L326.44,176.95 L327.84,177.11 L329.23,177.26 L330.63,177.41 L332.03,177.54 L333.43,177.66 L334.82,177.77 L336.22,177.87 L337.62,177.96 L339.01,178.04 L340.41,178.11 L341.81,178.16 L343.21,178.20 L344.60,178.23 L346.00,178.24 L347.40,178.24 L348.79,178.22 L350.19,178.19 L351.59,178.13 L352.99,178.06 L354.38,177.98 L355.78,177.87 L357.18,177.76 L358.57,177.63 L359.97,177.50 L361.37,177.35 L362.77,177.19 L364.16,177.03 L365.56,176.86 L366.96,176.68 L368.35,176.50 L369.75,176.32 L371.15,176.13 L372.55,175.95 L373.94,175.77 L375.34,175.59 L376.74,175.42 L378.13,175.26 L379.53,175.10 L380.93,174.95 L382.33,174.81 L383.72,174.68 L385.12,174.57 L386.52,174.46 L387.91,174.37 L389.31,174.29 L390.71,174.23 L392.11,174.18 L393.50,174.15 L394.90,174.14 L396.30,174.14 L397.69,174.16 L399.09,174.20 L400.49,174.26 L401.89,174.32 L403.28,174.40 L404.68,174.50 L406.08,174.60 L407.47,174.72 L408.87,174.85 L410.27,174.99 L411.67,175.14 L413.06,175.29 L414.46,175.45 L415.86,175.62 L417.25,175.80 L418.65,175.98 L420.05,176.17 L421.45,176.35 L422.84,176.54 L424.24,176.72 L425.64,176.91 L427.03,177.08 L428.43,177.25 L429.83,177.41 L431.23,177.56 L432.62,177.71 L434.02,177.84 L435.42,177.95 L436.81,178.06 L438.21,178.15 L439.61,178.22 L441.01,178.27 L442.40,178.31 L443.80,178.32 L445.20,178.32 L446.59,178.30 L447.99,178.27 L449.39,178.22 L450.79,178.17 L452.18,178.10 L453.58,178.01 L454.98,177.92 L456.37,177.82 L457.77,177.70 L459.17,177.58 L460.57,177.45 L461.96,177.31 L463.36,177.16 L464.76,177.00 L466.15,176.84 L467.55,176.67 L468.95,176.50 L470.35,176.31 L471.74,176.13 L473.14,175.94 L474.54,175.76 L475.93,175.57 L477.33,175.39 L478.73,175.21 L480.13,175.04 L481.52,174.88 L482.92,174.73 L484.32,174.58 L485.71,174.45 L487.11,174.33 L488.51,174.22 L489.91,174.13 L491.30,174.05 L492.70,173.99 L494.10,173.95 L495.49,173.93 L496.89,173.94 L498.29,173.97 L499.69,174.04 L501.08,174.14 L502.48,174.27 L503.88,174.41 L505.27,174.58 L506.67,174.76 L508.07,174.95 L509.47,175.16 L510.86,175.37 L512.26,175.59 L513.66,175.80 L515.05,176.01 L516.45,176.22 L517.85,176.42 L519.25,176.61 L520.64,176.79 L522.04,176.95 L523.44,177.11 L524.83,177.25 L526.23,177.39 L527.63,177.51 L529.03,177.62 L530.42,177.73 L531.82,177.82 L533.22,177.90 L534.61,177.97 L536.01,178.03 L537.41,178.08 L538.81,178.12 L540.20,178.14 L541.60,178.16" fill="none" stroke="#0000ff" stroke-width="1.6" stroke-dasharray="1.4 1.3"/>
<path d="M287.32,303.60 L301.29,303.60 L309.67,239.91 L315.26,239.91 L323.65,303.60" fill="none" stroke="#ff0000" stroke-width="2" stroke-linejoin="miter"/>
<path d="M287.32,303.60 L315.26,303.60 L323.65,239.91 L329.23,239.91 L337.62,303.60" fill="none" stroke="#0000ff" stroke-width="2" stroke-linejoin="miter"/>
<path d="M52.60,303.60 L250.99,303.60 L259.38,239.91 L264.97,239.91 L273.35,303.60 L287.32,303.60 L295.70,239.91 L301.29,239.91 L309.67,303.60 L541.60,303.60" fill="none" stroke="#000" stroke-width="2" stroke-linejoin="miter"/>
<rect x="59.8" y="228.9" width="93.3" height="68" fill="#fff" stroke="#9a9a9a" stroke-width="1.2"/>
<line x1="62.3" y1="241" x2="87.6" y2="241" stroke="#333" stroke-width="1.4"/>
<line x1="62.3" y1="263.2" x2="88.2" y2="263.2" stroke="#ff0000" stroke-width="1.4" stroke-dasharray="6.5 3.5"/>
<line x1="62.3" y1="285.3" x2="87.6" y2="285.3" stroke="#0000ff" stroke-width="1.6" stroke-dasharray="1.4 1.3"/>
<line x1="298.5" y1="198" x2="298.5" y2="232.8" stroke="#000" stroke-width="0.8"/><path d="M295.3,230.20000000000002 L298.5,231.8 L301.7,230.20000000000002 L298.5,237.8 Z" fill="#000" stroke="#000" stroke-width="0.6" stroke-linejoin="round"/>
<line x1="311.6" y1="213.5" x2="311.6" y2="232.8" stroke="#ff0000" stroke-width="0.8"/><path d="M308.40000000000003,230.20000000000002 L311.6,231.8 L314.8,230.20000000000002 L311.6,237.8 Z" fill="#ff0000" stroke="#ff0000" stroke-width="0.6" stroke-linejoin="round"/>
<line x1="326.4" y1="229.2" x2="326.4" y2="232.8" stroke="#0000ff" stroke-width="0.8"/><path d="M323.2,230.20000000000002 L326.4,231.8 L329.59999999999997,230.20000000000002 L326.4,237.8 Z" fill="#0000ff" stroke="#0000ff" stroke-width="0.6" stroke-linejoin="round"/>
<text class="tk" x="48" y="11.80" text-anchor="end">0.05</text>
<text class="tk" x="48" y="53.25" text-anchor="end">0</text>
<text class="tk" x="48" y="94.70" text-anchor="end"><tspan font-size="15">−</tspan><tspan dx="0.2">0.05</tspan></text>
<text class="tk" x="48" y="179.52" text-anchor="end">0</text>
<text class="tk" x="48" y="211.37" text-anchor="end"><tspan font-size="15">−</tspan><tspan dx="0.2">0.2</tspan></text>
<text class="tk" x="48" y="243.21" text-anchor="end"><tspan font-size="15">−</tspan><tspan dx="0.2">0.4</tspan></text>
<text class="tk" x="48" y="275.06" text-anchor="end"><tspan font-size="15">−</tspan><tspan dx="0.2">0.6</tspan></text>
<text class="tk" x="48" y="306.90" text-anchor="end"><tspan font-size="15">−</tspan><tspan dx="0.2">0.8</tspan></text>
<text class="tk" x="52.60" y="106" text-anchor="middle">10</text>
<text class="tk" x="52.60" y="318" text-anchor="middle">10</text>
<text class="tk" x="122.46" y="106" text-anchor="middle">15</text>
<text class="tk" x="122.46" y="318" text-anchor="middle">15</text>
<text class="tk" x="192.31" y="106" text-anchor="middle">20</text>
<text class="tk" x="192.31" y="318" text-anchor="middle">20</text>
<text class="tk" x="262.17" y="106" text-anchor="middle">25</text>
<text class="tk" x="262.17" y="318" text-anchor="middle">25</text>
<text class="tk" x="332.03" y="106" text-anchor="middle">30</text>
<text class="tk" x="332.03" y="318" text-anchor="middle">30</text>
<text class="tk" x="401.89" y="106" text-anchor="middle">35</text>
<text class="tk" x="401.89" y="318" text-anchor="middle">35</text>
<text class="tk" x="471.74" y="106" text-anchor="middle">40</text>
<text class="tk" x="471.74" y="318" text-anchor="middle">40</text>
<text class="tk" x="541.60" y="106" text-anchor="middle">45</text>
<text class="tk" x="541.60" y="318" text-anchor="middle">45</text>
<text class="lb" x="296.5" y="123.8" text-anchor="middle">x [m]</text>
<text class="lb" x="296.8" y="335.7" text-anchor="middle">x [m]</text>
<text class="lb" transform="translate(12,50.5) rotate(-90)" text-anchor="middle">z [m]</text>
<text class="lb" transform="translate(18,232.2) rotate(-90)" text-anchor="middle">z [m]</text>
<text class="lb" x="66.8" y="83.7">t = 74.14 s</text>
<text class="lb" x="66.8" y="212.2">t = 74.14 s</text>
<text class="cap" x="283" y="146.2" text-anchor="middle">(<tspan font-weight="bold">a</tspan>)</text>
<text class="cap" x="283.2" y="357.0" text-anchor="middle">(<tspan font-weight="bold">b</tspan>)</text>
<text class="lg" x="90" y="243.3">L<tspan font-size="10.5" dy="5.8">b</tspan><tspan dy="-5.8"> = 2.6 m</tspan></text>
<text class="lg" x="90" y="265.4">L<tspan font-size="10.5" dy="5.8">b</tspan><tspan dy="-5.8"> = 3.6 m</tspan></text>
<text class="lg" x="90" y="287.5">L<tspan font-size="10.5" dy="5.8">b</tspan><tspan dy="-5.8"> = 4.6 m</tspan></text>
<text class="an" x="242.8" y="236.1" style="fill:#000;stroke:#000;font-size:11.2px">1st PB</text>
<text class="an" x="294.8" y="193.3" style="fill:#000;stroke:#000">2nd PB (L<tspan font-size="10" dy="5.7">b</tspan><tspan dy="-5.7"> = 2.6 m)</tspan></text>
<text class="an" x="308.8" y="210.1" style="fill:#ff0000;stroke:#ff0000">2nd PB (L<tspan font-size="10" dy="5.7">b</tspan><tspan dy="-5.7"> = 3.6 m)</tspan></text>
<text class="an" x="322.7" y="227.2" style="fill:#0000ff;stroke:#0000ff">2nd PB (L<tspan font-size="10" dy="5.7">b</tspan><tspan dy="-5.7"> = 4.6 m)</tspan></text>
</svg>
</body></html>
